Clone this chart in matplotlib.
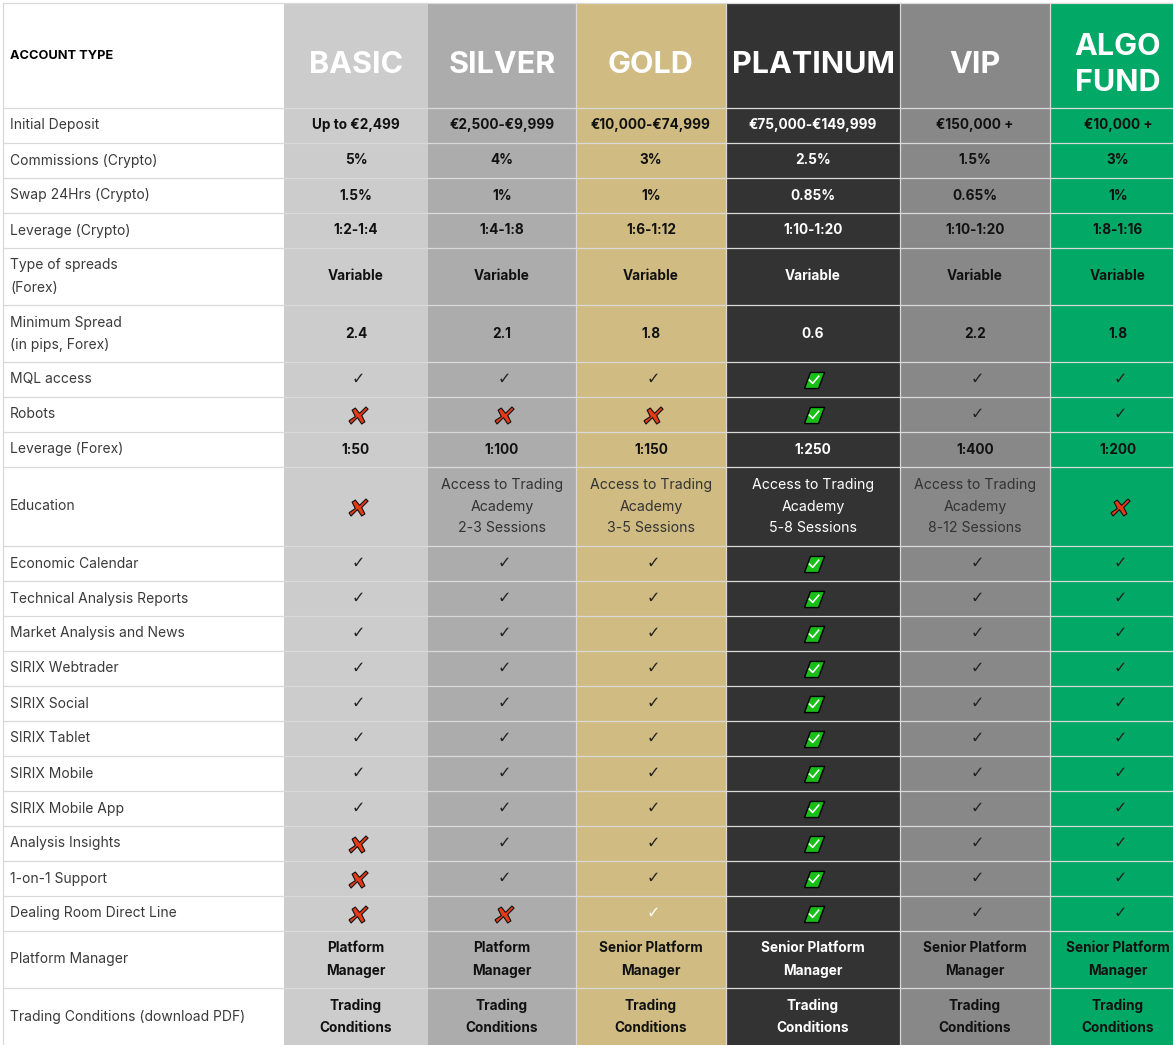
import matplotlib
matplotlib.use("Agg")
import matplotlib.pyplot as plt
from matplotlib.patches import Rectangle
from matplotlib.path import Path

FONT = ["Inter", "DejaVu Sans"]

ACCOUNTS = ["BASIC", "SILVER", "GOLD", "PLATINUM", "VIP", "ALGO\nFUND"]
COL_COLORS = ["#cccccc", "#acacac", "#d0bc82", "#333333", "#888888", "#02a966"]
TEXT_COLORS = ["#111111", "#111111", "#111111", "#ffffff", "#111111", "#111111"]

# pixel layout of the table
COL_EDGES = [284, 428, 576, 726, 900, 1050, 1186]
ROW_EDGES = [108, 143, 178, 213, 248, 305, 362, 397, 432, 467, 546, 581, 616,
             651, 686, 721, 756, 791, 826, 861, 896, 931, 988, 1045]

ROW_LABELS = [
    "Initial Deposit", "Commissions (Crypto)", "Swap 24Hrs (Crypto)", "Leverage (Crypto)",
    "Type of spreads\n(Forex)", "Minimum Spread\n(in pips, Forex)", "MQL access", "Robots",
    "Leverage (Forex)", "Education", "Economic Calendar", "Technical Analysis Reports",
    "Market Analysis and News", "SIRIX Webtrader", "SIRIX Social", "SIRIX Tablet",
    "SIRIX Mobile", "SIRIX Mobile App", "Analysis Insights", "1-on-1 Support",
    "Dealing Room Direct Line", "Platform Manager", "Trading Conditions (download PDF)",
]

# y = check, x = cross, Y = green badge, w = white check
deposit = ["Up to €2,499", "€2,500-€9,999", "€10,000-€74,999", "€75,000-€149,999", "€150,000 +", "€10,000 +"]
commissions = ["5%", "4%", "3%", "2.5%", "1.5%", "3%"]
swap = ["1.5%", "1%", "1%", "0.85%", "0.65%", "1%"]
lev_crypto = ["1:2-1:4", "1:4-1:8", "1:6-1:12", "1:10-1:20", "1:10-1:20", "1:8-1:16"]
spreads = ["Variable"] * 6
min_spread = ["2.4", "2.1", "1.8", "0.6", "2.2", "1.8"]
mql = ["y", "y", "y", "Y", "y", "y"]
robots = ["x", "x", "x", "Y", "y", "y"]
lev_forex = ["1:50", "1:100", "1:150", "1:250", "1:400", "1:200"]
education = ["x", "Access to Trading\nAcademy\n2-3 Sessions", "Access to Trading\nAcademy\n3-5 Sessions",
             "Access to Trading\nAcademy\n5-8 Sessions", "Access to Trading\nAcademy\n8-12 Sessions", "x"]
all_tools = ["y", "y", "y", "Y", "y", "y"]
insights = ["x", "y", "y", "Y", "y", "y"]
support = ["x", "y", "y", "Y", "y", "y"]
dealing = ["x", "x", "w", "Y", "y", "y"]
manager = ["Platform\nManager", "Platform\nManager", "Senior Platform\nManager",
           "Senior Platform\nManager", "Senior Platform\nManager", "Senior Platform\nManager"]
conditions = ["Trading\nConditions"] * 6

ROWS = [deposit, commissions, swap, lev_crypto, spreads, min_spread, mql, robots, lev_forex,
        education, all_tools, all_tools, all_tools, all_tools, all_tools, all_tools, all_tools,
        all_tools, insights, support, dealing, manager, conditions]

BADGE = Path([(-10, -8), (-4, 8), (10, 8), (4, -8), (-10, -8)])
BADGE_TICK = Path([(-4, 0), (-1, -3), (4, 3)], [Path.MOVETO, Path.LINETO, Path.LINETO])
CROSS = Path([(-9, -5), (-3, -1), (-6, 5), (-3, 7), (1, 2), (7, 8), (9, 6), (3, 0),
              (6, -6), (3, -8), (-1, -2), (-7, -8), (-9, -5)])


def draw_lines(ax, x, y, text, step, **kw):
    lines = text.split("\n")
    top = y - step * (len(lines) - 1) / 2
    for i, line in enumerate(lines):
        ax.text(x, top + i * step, line, va="center", family=FONT, **kw)


def draw_symbol(ax, x, y, sym):
    if sym == "y" or sym == "w":
        color = "#ffffff" if sym == "w" else "#222222"
        ax.text(x + 2, y, "\u2713", ha="center", va="center", fontsize=11.5,
                color=color, family="DejaVu Sans")
    elif sym == "x":
        ax.scatter([x + 2], [y], marker=CROSS, s=190, color="#e63a17",
                   edgecolors="#111111", linewidths=0.8, zorder=4)
    else:
        ax.scatter([x + 1], [y], marker=BADGE, s=210, color="#17bf17",
                   edgecolors="#000000", linewidths=1.0, zorder=4)
        ax.scatter([x + 1], [y], marker=BADGE_TICK, s=55, facecolors="none",
                   edgecolors="#ffffff", linewidths=1.2, zorder=5)


fig = plt.figure(figsize=(11.73, 10.45), dpi=100)
ax = fig.add_axes([0, 0, 1, 1])
ax.set_xlim(0, 1173)
ax.set_ylim(1045, 0)
ax.axis("off")

top, header_bottom = 3, ROW_EDGES[0]
for c, color in enumerate(COL_COLORS):
    ax.add_patch(Rectangle((COL_EDGES[c], top), COL_EDGES[c + 1] - COL_EDGES[c], 1045 - top,
                           facecolor=color, edgecolor="none", zorder=1))

line_color = "#d9d9d9"
ax.plot([3, 1173], [top, top], color=line_color, lw=0.9, zorder=2)
ax.plot([3, 3], [top, 1045], color=line_color, lw=0.9, zorder=2)
for y in ROW_EDGES[:-1]:
    ax.plot([3, 1173], [y, y], color=line_color, lw=0.9, zorder=2)
for x in COL_EDGES[1:-1]:
    if x != COL_EDGES[1]:
        ax.plot([x, x], [top, 1045], color=line_color, lw=0.9, zorder=2)

ax.text(10, 56, "ACCOUNT TYPE", fontsize=9.2, fontweight="bold", color="#000000",
        va="center", family=FONT)

centers = [(COL_EDGES[i] + COL_EDGES[i + 1]) / 2 for i in range(6)]
for c, name in enumerate(ACCOUNTS):
    draw_lines(ax, centers[c], 65, name, 36, ha="center", fontsize=22,
               fontweight="bold", color="#ffffff")

for r, label in enumerate(ROW_LABELS):
    y = (ROW_EDGES[r] + ROW_EDGES[r + 1]) / 2
    draw_lines(ax, 10, y, label, 22, ha="left", fontsize=10, color="#3a3a3a")
    for c, val in enumerate(ROWS[r]):
        if val in ("y", "x", "Y", "w"):
            draw_symbol(ax, centers[c], y, val)
        elif "Access" in val:
            draw_lines(ax, centers[c], y, val, 22, ha="center", fontsize=10.2,
                       color=TEXT_COLORS[c] if c == 3 else "#333333")
        else:
            draw_lines(ax, centers[c], y, val, 22, ha="center", fontsize=9.8,
                       fontweight="bold", color=TEXT_COLORS[c])

fig.savefig("out.png", dpi=100, facecolor="white")
